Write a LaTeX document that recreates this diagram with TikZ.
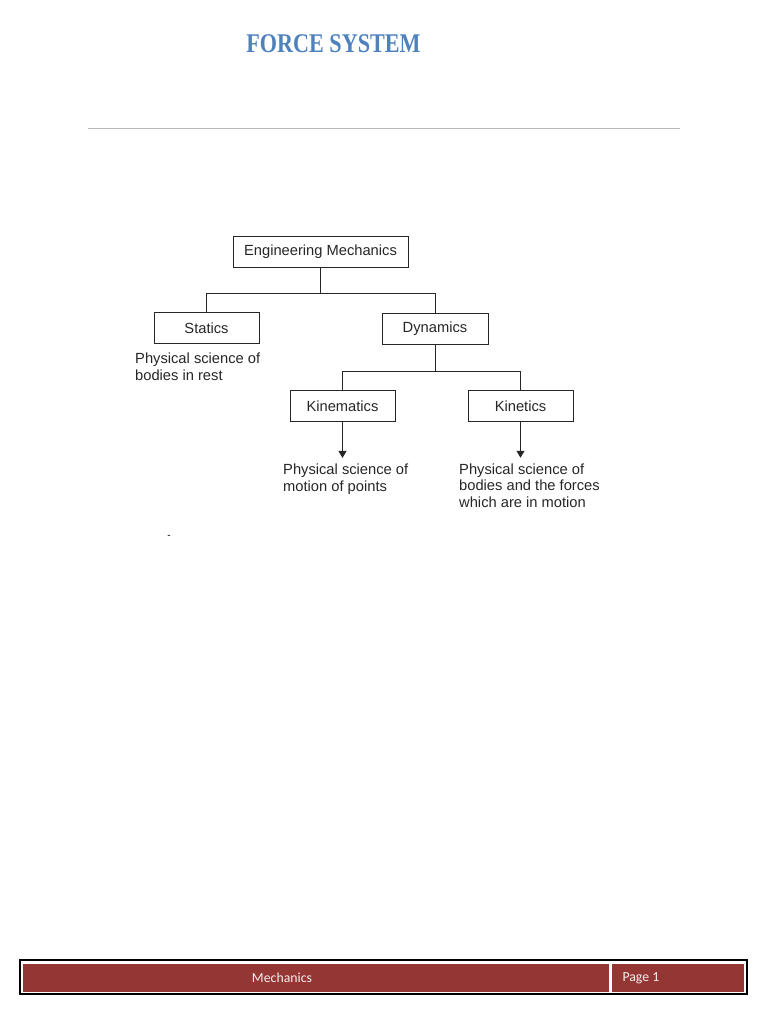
\documentclass[tikz,border=0pt]{standalone}
\usepackage{fontspec}
\setmainfont{Liberation Sans}
\newfontfamily\titlefont[FakeStretch=0.82]{Liberation Serif}
\newfontfamily\footfont{Carlito}
\usepackage{tikz}
\usetikzlibrary{arrows.meta,calc}
\definecolor{titleblue}{HTML}{4F81BD}
\definecolor{footred}{HTML}{943634}
\definecolor{inkgray}{HTML}{262626}
\tikzset{
	>={Triangle[width=8pt,length=7pt]},   % small filled heads
	topicbox/.style={draw=inkgray, line width=1pt, inner sep=0pt,
		minimum height=31pt, font=\fontsize{14.7}{17}\selectfont, text=inkgray},
	notetext/.style={anchor=base west, inner sep=0pt, align=left,
		font=\fontsize{14.7}{16.2}\selectfont, text=inkgray},
	treeline/.style={draw=inkgray, line width=1pt},
	foottext/.style={text=white!92!footred, font=\footfont\fontsize{13.8}{16}\selectfont}
}

\begin{document}
\begin{tikzpicture}[x=1pt,y=-1pt]
		\useasboundingbox (0,0) rectangle (768,1024);
		
		% page heading and rule
		\node[anchor=base, text=titleblue, font=\titlefont\bfseries\fontsize{27}{30}\selectfont]
			(title) at (333.5,53) {FORCE SYSTEM};
		\draw[gray!55, line width=1pt] (88,129) -- (680,129);
		
		% boxes of the tree
		\node[topicbox, minimum width=175pt] (engmech) at (320.5,252) {Engineering Mechanics};
		\node[topicbox, minimum width=105pt] (statics) at (206.5,328) {Statics};
		\node[topicbox, minimum width=106pt] (dynamics) at (435,328.5) {Dynamics};
		\node[topicbox, minimum width=105pt] (kinematics) at (342.5,406) {Kinematics};
		\node[topicbox, minimum width=105pt] (kinetics) at (520.5,406) {Kinetics};
		
		% notes under the boxes (base = last line)
		\node[notetext] (staticsnote) at (135,380) {Physical science of\\bodies in rest};
		\node[notetext] (kinematicsnote) at (283,491) {Physical science of\\motion of points};
		\node[notetext] (kineticsnote) at (459,507) {Physical science of\\bodies and the forces\\which are in motion};
		
		% branches
		\coordinate (engfork) at (320.5,293);
		\coordinate (dynfork) at (435,371);
		\draw[treeline] (engmech.south) -- (engfork);
		\draw[treeline] (engfork) -| (statics.north);
		\draw[treeline] (engfork) -| (dynamics.north);
		\draw[treeline] (dynamics.south) -- (dynfork);
		\draw[treeline] (dynfork) -| (kinematics.north);
		\draw[treeline] (dynfork) -| (kinetics.north);
		
		% arrows down to the notes
		\draw[treeline, ->, shorten >=6pt] (kinematics.south) -- (kinematics.south |- kinematicsnote.north);
		\draw[treeline, ->, shorten >=6pt] (kinetics.south) -- (kinetics.south |- kineticsnote.north);
		
		% stray mark
		\node[inner sep=0pt, font=\fontsize{10}{12}\selectfont] (straymark) at (169,537) {-};
		
		% footer bar
		\draw[black, line width=1.5pt] (20,960) rectangle (747,994);
		\fill[footred] (23,964) rectangle (608.5,991.5);
		\fill[footred] (612,964) rectangle (744,991.5);
		\node[foottext] (footleft) at (282,978) {Mechanics};
		\node[foottext, anchor=west] (footright) at (619,978) {Page 1};
		
	\end{tikzpicture}
\end{document}
